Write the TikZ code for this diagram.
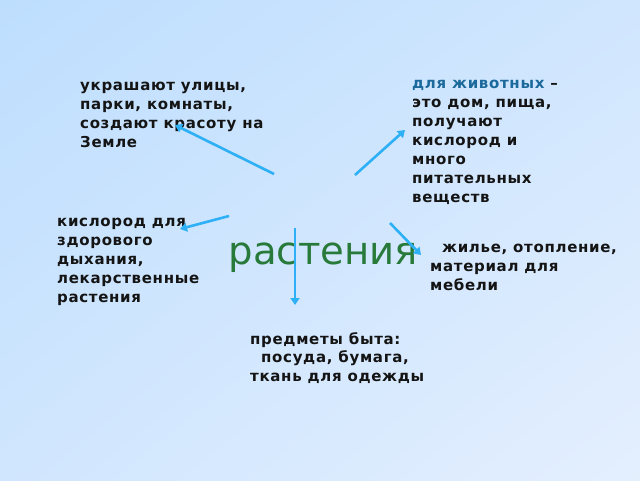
\documentclass[tikz,border=0pt]{standalone}
\usepackage{fontspec}
\setmainfont{DejaVu Sans}
\newfontfamily\spacedfont[LetterSpace=4.5]{DejaVu Sans}
\usetikzlibrary{arrows.meta,shadings}
\definecolor{bgtl}{RGB}{190,222,254}
\definecolor{bgtr}{RGB}{208,230,254}
\definecolor{bgbl}{RGB}{208,230,254}
\definecolor{bgbr}{RGB}{228,239,254}
\definecolor{arrowblue}{RGB}{45,176,245}
\definecolor{plantgreen}{RGB}{40,122,58}
\definecolor{animalblue}{RGB}{28,106,156}
\definecolor{inktext}{RGB}{20,20,20}
\tikzset{
  txt/.style={anchor=base west, inner sep=0pt, align=left, font=\spacedfont\fontsize{15}{19}\selectfont\bfseries, text=inktext},
  arr/.style={draw=arrowblue, line width=2.6pt, -{Triangle[length=7pt,width=9pt]}},
}
\begin{document}
\begin{tikzpicture}[x=1pt,y=-1pt]
\useasboundingbox (0,0) rectangle (640,480);
\shade[upper left=bgtl, upper right=bgtr, lower left=bgbl, lower right=bgbr] (0,0) rectangle (640,480);

% base anchor = baseline of the last line
\node[txt] (decor) at (80,147.5) {украшают улицы,\\парки, комнаты,\\создают красоту на\\Земле};
\node[txt] (animals) at (412,202.5) {\textcolor{animalblue}{для животных} –\\это дом, пища,\\получают\\кислород и\\много\\питательных\\веществ};
\node[txt] (oxygen) at (57,302) {кислород для\\здорового\\дыхания,\\лекарственные\\растения};
\node[txt] (housing) at (430,290) {\hspace*{12pt}жилье, отопление,\\материал для\\мебели};
\node[txt, font=\spacedfont\fontsize{15}{18.2}\selectfont\bfseries] (items) at (250,381) {предметы быта:\\\hspace*{11pt}посуда, бумага,\\ткань для одежды};
\node[anchor=base west, inner sep=0pt, text=plantgreen, font=\fontsize{38.6}{40}\selectfont] (plants) at (228.5,264) {растения};

\coordinate (a1s) at (274,174); \coordinate (a1e) at (175,125);
\coordinate (a2s) at (355,175); \coordinate (a2e) at (405,130);
\coordinate (a3s) at (229,216); \coordinate (a3e) at (180,229);
\coordinate (a4s) at (295,228); \coordinate (a4e) at (295,305);
\coordinate (a5s) at (390,223); \coordinate (a5e) at (421,255);

\draw[arr] (a1s) -- (a1e);
\draw[arr] (a2s) -- (a2e);
\draw[arr] (a3s) -- (a3e);
\draw[arr] (a4s) -- (a4e);
\draw[arr] (a5s) -- (a5e);
\end{tikzpicture}
\end{document}
